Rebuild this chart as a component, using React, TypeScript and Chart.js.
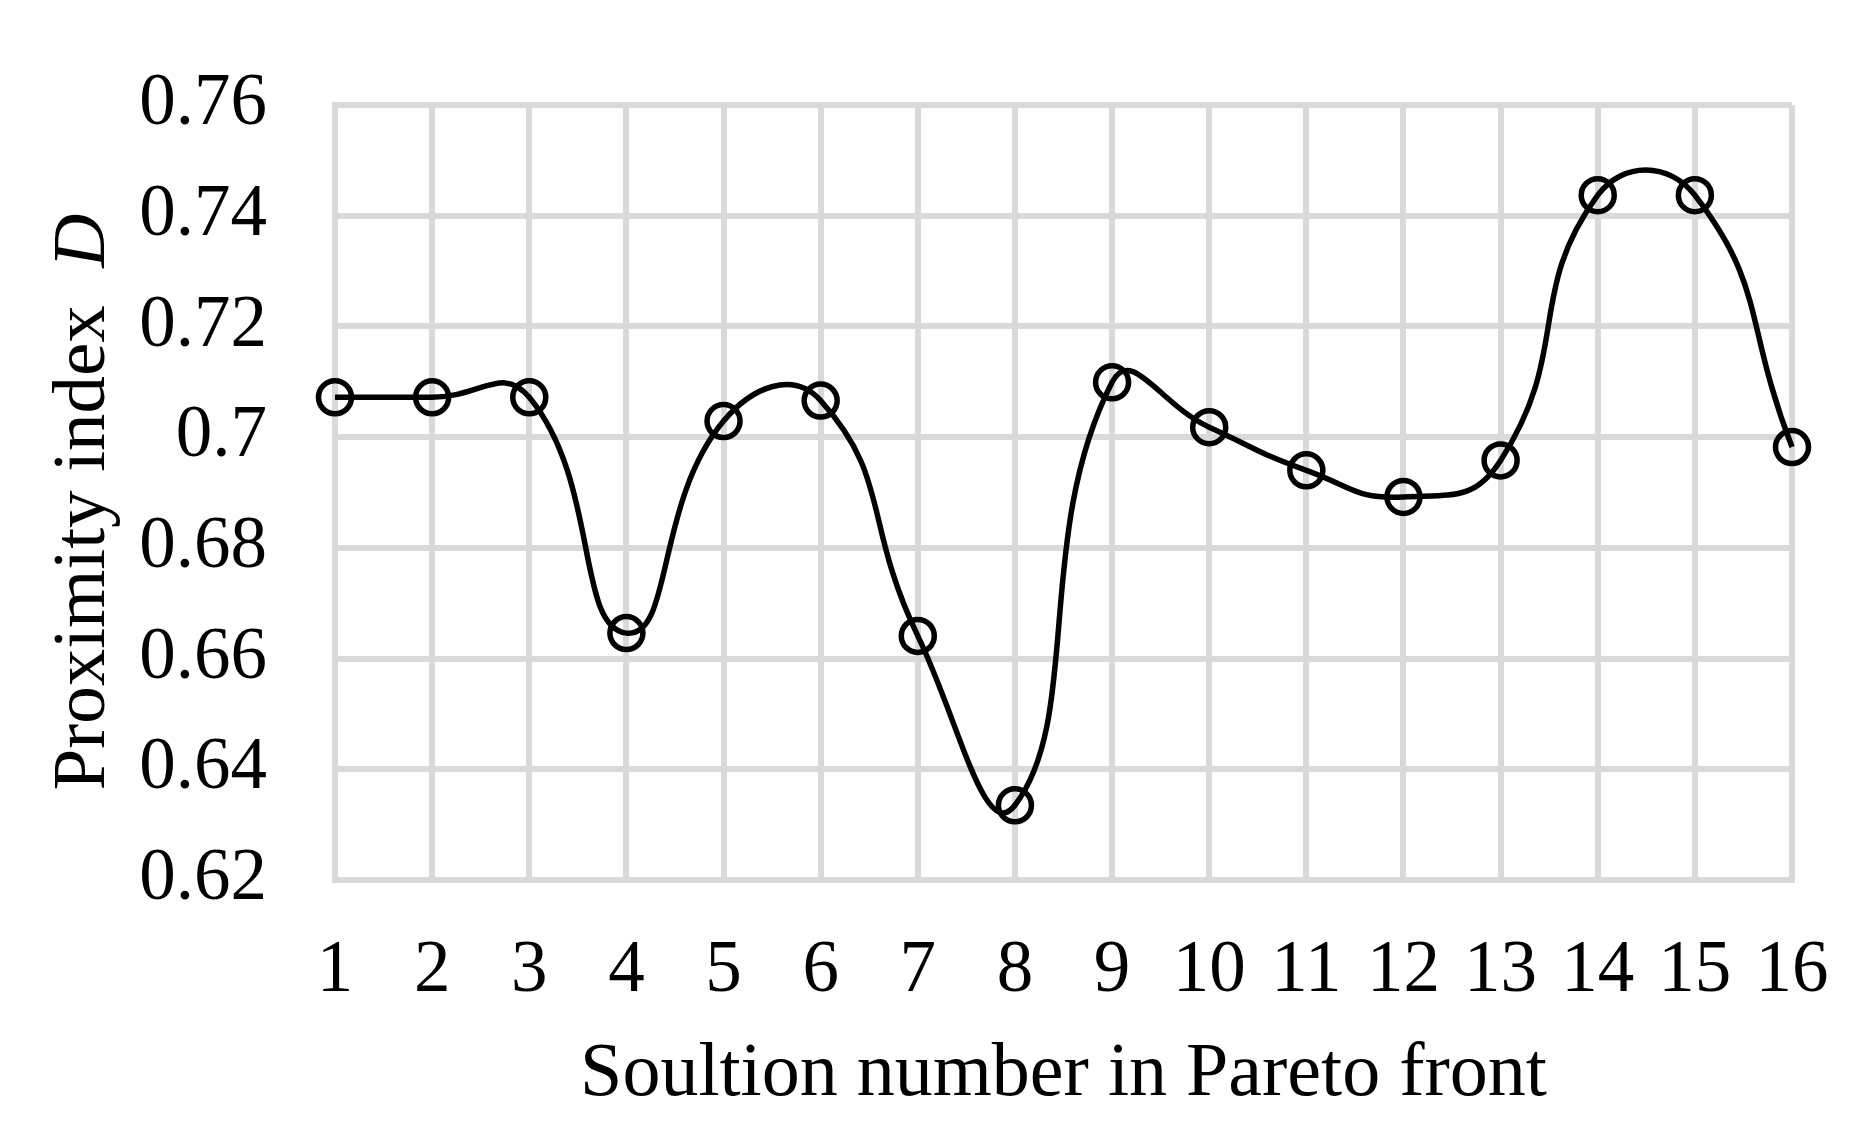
import React, { useEffect, useRef } from "react";
import { Chart, registerables } from "chart.js";

Chart.register(...registerables);

const solutionLabels: string[] = ["1", "2", "3", "4", "5", "6", "7", "8", "9", "10", "11", "12", "13", "14", "15", "16"];
const proximityValues: number[] = [0.7072, 0.7072, 0.7072, 0.6646, 0.7029, 0.7066, 0.6641, 0.6335, 0.7099, 0.7018, 0.694, 0.6892, 0.6958, 0.7437, 0.7437, 0.6982];
const yMin = 0.62;
const yMax = 0.76;
const yStep = 0.02;
const xTitle = "Soultion number in Pareto front";
const yTitleMain = "Proximity index  ";
const yTitleSymbol = "D";

const FONT = "'Liberation Serif', 'Times New Roman', serif";
const GRID = "#d9d9d9";
const CLEAR = "rgba(0,0,0,0)";

const yTitlePlugin = {
  id: "yTitleMixed",
  afterDraw(chart: any) {
    const { ctx } = chart;
    const size = 75;
    ctx.save();
    ctx.translate(104, 502);
    ctx.rotate(-Math.PI / 2);
    ctx.fillStyle = "#000";
    ctx.textBaseline = "alphabetic";
    ctx.textAlign = "left";
    ctx.font = `normal ${size}px ${FONT}`;
    const w1 = ctx.measureText(yTitleMain).width;
    ctx.font = `italic ${size}px ${FONT}`;
    const w2 = ctx.measureText(yTitleSymbol).width;
    const start = -(w1 + w2) / 2;
    ctx.font = `normal ${size}px ${FONT}`;
    ctx.fillText(yTitleMain, start, 0);
    ctx.font = `italic ${size}px ${FONT}`;
    ctx.fillText(yTitleSymbol, start + w1, 0);
    ctx.restore();
  },
};

export default function App() {
  const canvasRef = useRef<HTMLCanvasElement | null>(null);

  useEffect(() => {
    if (!canvasRef.current) return;
    const chart = new Chart(canvasRef.current, {
      type: "line",
      data: {
        labels: solutionLabels,
        datasets: [
          {
            data: proximityValues,
            borderColor: "#000",
            borderWidth: 5.5,
            tension: 0.5,
            fill: false,
            pointStyle: "circle",
            pointRadius: 16.5,
            pointHoverRadius: 16.5,
            pointBorderWidth: 5.5,
            pointBorderColor: "#000",
            pointBackgroundColor: CLEAR,
          },
        ],
      },
      options: {
        animation: false,
        responsive: false,
        maintainAspectRatio: false,
        events: [],
        layout: { autoPadding: false, padding: { top: 105, right: 69, left: 0, bottom: 0 } },
        plugins: {
          legend: { display: false },
          tooltip: { enabled: false },
          title: { display: false },
        },
        scales: {
          x: {
            type: "category",
            offset: false,
            afterFit: (scale: any) => {
              scale.height = 267;
            },
            grid: { color: GRID, lineWidth: 6, drawTicks: true, tickLength: 48, tickColor: CLEAR },
            border: { display: true, color: GRID, width: 6 },
            ticks: {
              color: "#000",
              font: { family: FONT, size: 73 },
              padding: 0,
              autoSkip: false,
              maxRotation: 0,
              minRotation: 0,
            },
            title: {
              display: true,
              text: xTitle,
              color: "#000",
              font: { family: FONT, size: 76, lineHeight: 1.2 },
              padding: { top: 0, bottom: 26 },
            },
          },
          y: {
            min: yMin,
            max: yMax,
            afterFit: (scale: any) => {
              scale.width = 335;
            },
            grid: { color: GRID, lineWidth: 6, drawTicks: true, tickLength: 68, tickColor: CLEAR },
            border: { display: true, color: GRID, width: 6 },
            ticks: {
              stepSize: yStep,
              color: "#000",
              font: { family: FONT, size: 73, lineHeight: 1.0 },
              padding: 0,
              callback: (v: any) => String(parseFloat(Number(v).toFixed(2))),
            },
          },
        },
      },
      plugins: [yTitlePlugin],
    });
    return () => chart.destroy();
  }, []);

  return (
    <div style={{ position: "absolute", left: 0, top: 0, width: 1861, height: 1147, background: "#fff" }}>
      <canvas ref={canvasRef} width={1861} height={1147} style={{ width: 1861, height: 1147 }} />
    </div>
  );
}
